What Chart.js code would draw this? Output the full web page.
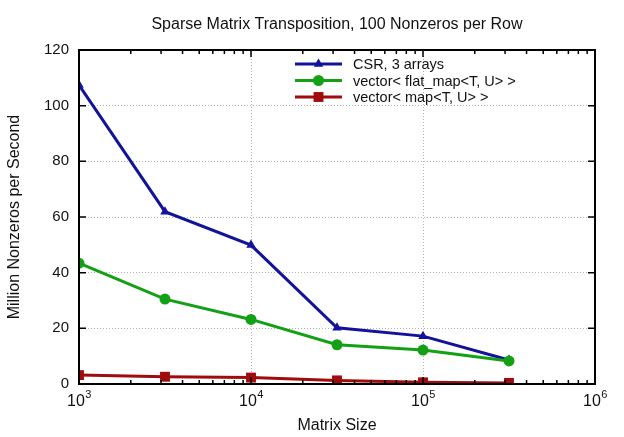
<!DOCTYPE html>
<html>
<head>
<meta charset="utf-8">
<script src="https://cdn.jsdelivr.net/npm/chart.js@4/dist/chart.umd.min.js"></script>
<style>
  html, body { margin: 0; padding: 0; background: #fff; }
  canvas { display: block; }
</style>
</head>
<body>
<canvas id="chart" width="624" height="437"></canvas>
<script>
// values
const matrixSizes = [1000, 3162, 10000, 31623, 100000, 316228];
const csrRates = [107.4, 61.9, 49.9, 20.2, 17.2, 8.6];
const flatMapRates = [43.4, 30.5, 23.2, 14.1, 12.2, 8.3];
const mapRates = [3.2, 2.6, 2.3, 1.3, 0.6, 0.4];
const seriesNames = ['CSR, 3 arrays', 'vector< flat_map<T, U> >', 'vector< map<T, U> >'];
const seriesColors = ['#12129a', '#14a014', '#a00c0c'];
const xDecadeExponents = [3, 4, 5, 6];

const titleText = 'Sparse Matrix Transposition, 100 Nonzeros per Row';
const xTitle = 'Matrix Size';
const yTitle = 'Million Nonzeros per Second';

const FONT = '"Liberation Sans", Arial, Helvetica, sans-serif';
const TEXT_COLOR = '#111';

function toPoints(ys) {
    return matrixSizes.map((x, i) => ({ x: x, y: ys[i] }));
}

const markerStyles = [
    { pointStyle: 'triangle', radius: 5.5 },
    { pointStyle: 'circle', radius: 5.5 },
    { pointStyle: 'rect', radius: 7 }
];

const datasets = [csrRates, flatMapRates, mapRates].map((vals, i) => ({
    label: seriesNames[i],
    data: toPoints(vals),
    borderColor: seriesColors[i],
    backgroundColor: seriesColors[i],
    borderWidth: 3,
    pointStyle: markerStyles[i].pointStyle,
    pointRadius: markerStyles[i].radius,
    pointBorderWidth: 0,
    tension: 0,
    order: 2 - i
}));

// frame, inward ticks, x labels, titles, legend (gnuplot look)
const gnuplotDecor = {
    id: 'gnuplotDecor',
    afterDatasetsDraw(chart) {
        const ctx = chart.ctx;
        const area = chart.chartArea;
        const xs = chart.scales.x;
        const ys = chart.scales.y;
        ctx.save();

        // ticks
        ctx.strokeStyle = '#000';
        ctx.lineWidth = 1.5;
        ctx.beginPath();
        xDecadeExponents.forEach((e, idx) => {
            const base = Math.pow(10, e);
            const px = xs.getPixelForValue(base);
            ctx.moveTo(px, area.bottom); ctx.lineTo(px, area.bottom - 7);
            ctx.moveTo(px, area.top); ctx.lineTo(px, area.top + 7);
            if (idx < xDecadeExponents.length - 1) {
                for (let k = 2; k <= 9; k++) {
                    const mx = xs.getPixelForValue(k * base);
                    ctx.moveTo(mx, area.bottom); ctx.lineTo(mx, area.bottom - 4);
                    ctx.moveTo(mx, area.top); ctx.lineTo(mx, area.top + 4);
                }
            }
        });
        ys.ticks.forEach(t => {
            const py = ys.getPixelForValue(t.value);
            ctx.moveTo(area.left, py); ctx.lineTo(area.left + 7, py);
            ctx.moveTo(area.right, py); ctx.lineTo(area.right - 7, py);
        });
        ctx.stroke();

        // frame
        ctx.lineWidth = 2;
        ctx.strokeRect(area.left, area.top, area.right - area.left, area.bottom - area.top);

        // x tick labels: 10 with superscript exponent
        ctx.fillStyle = TEXT_COLOR;
        ctx.textBaseline = 'alphabetic';
        xDecadeExponents.forEach(e => {
            const px = xs.getPixelForValue(Math.pow(10, e));
            ctx.font = '16px ' + FONT;
            const wBase = ctx.measureText('10').width;
            ctx.font = '11px ' + FONT;
            const wExp = ctx.measureText(String(e)).width;
            const start = px - (wBase + wExp) / 2;
            ctx.textAlign = 'left';
            ctx.font = '16px ' + FONT;
            ctx.fillText('10', start, 406);
            ctx.font = '11px ' + FONT;
            ctx.fillText(String(e), start + wBase + 0.5, 398);
        });

        // titles
        const midX = (area.left + area.right) / 2;
        const midY = (area.top + area.bottom) / 2;
        ctx.font = '16px ' + FONT;
        ctx.textAlign = 'center';
        ctx.textBaseline = 'middle';
        ctx.fillText(titleText, midX, 25);
        ctx.fillText(xTitle, midX, 426);
        ctx.save();
        ctx.translate(15, midY);
        ctx.rotate(-Math.PI / 2);
        ctx.fillText(yTitle, 0, 0);
        ctx.restore();

        // legend
        chart.data.datasets.forEach((ds, i) => {
            const ly = 64 + i * 16.5;
            ctx.strokeStyle = ds.borderColor;
            ctx.lineWidth = 3;
            ctx.beginPath();
            ctx.moveTo(295, ly);
            ctx.lineTo(342, ly);
            ctx.stroke();
            ctx.fillStyle = ds.backgroundColor;
            Chart.helpers.drawPoint(ctx, {
                pointStyle: ds.pointStyle,
                radius: ds.pointRadius,
                rotation: 0,
                borderWidth: 0
            }, 318.5, ly);
            ctx.fillStyle = TEXT_COLOR;
            ctx.textAlign = 'left';
            ctx.textBaseline = 'middle';
            ctx.font = '14.5px ' + FONT;
            ctx.fillText(ds.label, 353, ly + 1);
        });

        ctx.restore();
    }
};

new Chart(document.getElementById('chart'), {
    type: 'line',
    data: { datasets: datasets },
    options: {
        responsive: false,
        animation: false,
        devicePixelRatio: 1,
        layout: { padding: { left: 0, top: 50, right: 29, bottom: 0 } },
        plugins: {
            legend: { display: false },
            title: { display: false },
            tooltip: { enabled: false }
        },
        scales: {
            x: {
                type: 'logarithmic',
                min: 1000,
                max: 1000000,
                afterBuildTicks: (scale) => {
                    scale.ticks = xDecadeExponents.map(e => ({ value: Math.pow(10, e) }));
                },
                afterFit: (scale) => { scale.height = 53; },
                ticks: { display: false },
                grid: { color: '#b0b0b0', lineWidth: 1, drawTicks: false },
                border: { display: false, dash: [1, 2] }
            },
            y: {
                min: 0,
                max: 120,
                afterFit: (scale) => { scale.width = 79; },
                ticks: {
                    stepSize: 20,
                    padding: 10,
                    color: TEXT_COLOR,
                    font: { family: FONT, size: 15 }
                },
                grid: { color: '#b0b0b0', lineWidth: 1, drawTicks: false },
                border: { display: false, dash: [1, 2] }
            }
        }
    },
    plugins: [gnuplotDecor]
});
</script>
</body>
</html>
